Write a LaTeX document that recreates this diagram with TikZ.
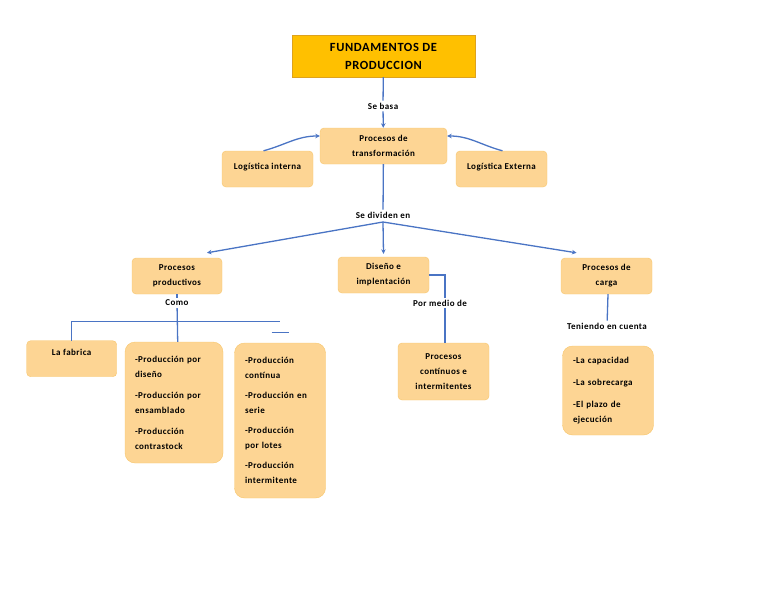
\documentclass[tikz,border=0pt]{standalone}
\usepackage{fontspec}
\setmainfont[LetterSpace=5]{Carlito}
\usetikzlibrary{arrows.meta,positioning}
\tikzset{>=Stealth}
\definecolor{titlegold}{HTML}{FFC000}
\definecolor{titleedge}{HTML}{DDA21E}
\definecolor{boxfill}{HTML}{FDD594}
\definecolor{boxedge}{HTML}{F7C66C}
\definecolor{linkblue}{HTML}{4A74C4}
\begin{document}
\begin{tikzpicture}[x=1pt,y=-1pt,
    every node/.style={font=\bfseries\fontsize{9}{15}\selectfont},
    title/.style={draw=titleedge,fill=titlegold,minimum width=183pt,minimum height=42pt,align=center,font=\bfseries\fontsize{12.5}{18}\selectfont},
    concept/.style={draw=boxedge,fill=boxfill,rounded corners=4pt,align=center,minimum width=91pt,minimum height=36pt,inner sep=2pt},
    listbox/.style={concept,rounded corners=10pt,align=left,inner xsep=10pt},
    linktext/.style={inner sep=2pt},
    link/.style={linkblue,line width=1.3pt,-{Stealth[length=4.5pt,width=4.5pt]}},
    bar/.style={linkblue,line width=1.3pt}]
    \useasboundingbox (0,0) rectangle (768,594);
    % nodes
    \node[title] at (383.5,56) (fund) {FUNDAMENTOS DE\\PRODUCCION};
    \node[concept,minimum width=127pt] at (383.5,146) (transf) {Procesos de\\transformación};
    \node[concept,text depth=6pt] at (267.5,169) (interna) {Logística interna};
    \node[concept,text depth=6pt] at (501.5,169) (externa) {Logística Externa};
    \node[linktext] at (383,106) (sebasa) {Se basa};
    \node[linktext] at (383,215) (dividen) {Se dividen en};
    \node[concept,minimum width=90pt] at (177,276) (productivos) {Procesos\\productivos};
    \node[concept] at (383.5,275) (diseno) {Diseño e\\implentación};
    \node[concept] at (606.5,276) (carga) {Procesos de\\carga};
    \node[linktext] at (177,303) (como) {Como};
    \node[linktext] at (440,303) (pormedio) {Por medio de};
    \node[linktext] at (607,326) (teniendo) {Teniendo en cuenta};
    \node[concept,minimum width=90pt,text depth=12pt] at (71.7,358.7) (fabrica) {La fabrica};
    \node[listbox,text width=78pt,minimum height=121pt] at (174,402.5) (listadiseno)
        {-Producción por\\diseño\\[6pt]-Producción por\\ensamblado\\[6pt]-Producción\\contrastock};
    \node[listbox,text width=70pt,minimum height=155pt] at (280,420.5) (listaserie)
        {-Producción\\contínua\\[5pt]-Producción en\\serie\\[5pt]-Producción\\por lotes\\[5pt]-Producción\\intermitente};
    \node[concept,minimum height=57pt] at (443.5,371.5) (continuos) {Procesos\\contínuos e\\intermitentes};
    \node[listbox,text width=70pt,minimum height=89pt] at (608,390.5) (listacarga)
        {-La capacidad\\[7pt]-La sobrecarga\\[7pt]-El plazo de\\ejecución};
    \coordinate (split) at (383,222);
    \coordinate (ramaizq) at (71.7,321.7);
    \coordinate (ramader) at (280,321.7);
    \coordinate (tramoa) at (271.7,332.7);
    \coordinate (tramob) at (289.3,332.7);
    % connectors
    \draw[bar] (fund) -- (sebasa);
    \draw[link] (sebasa) -- (transf);
    \draw[link] ([xshift=-4pt]interna.north) to[out=15,in=180] ([yshift=10pt]transf.west);
    \draw[link] ([xshift=1pt]externa.north) to[out=165,in=0] ([yshift=10pt]transf.east);
    \draw[bar] (transf) -- (dividen);
    \draw[link] (split) -- ([xshift=30pt,yshift=5pt]productivos.north);
    \draw[link] (split) -- ([yshift=3pt]diseno.north);
    \draw[link] (split) -- ([xshift=-30pt,yshift=5pt]carga.north);
    \draw[bar] (productivos) -- (como);
    \draw[bar] (como) -- ([xshift=3.7pt]listadiseno.north);
    \draw[bar,line width=1pt] (fabrica.north) -- (ramaizq) -- (ramader);
    \draw[bar,line width=1pt] (tramoa) -- (tramob);
    \draw[bar] (diseno.east) -| ([xshift=5pt]pormedio.north);
    \draw[bar] ([xshift=5pt]pormedio.south) -- ([xshift=1.5pt]continuos.north);
    \draw[bar] ([xshift=1.5pt]carga.south) -- (teniendo);
\end{tikzpicture}
\end{document}
